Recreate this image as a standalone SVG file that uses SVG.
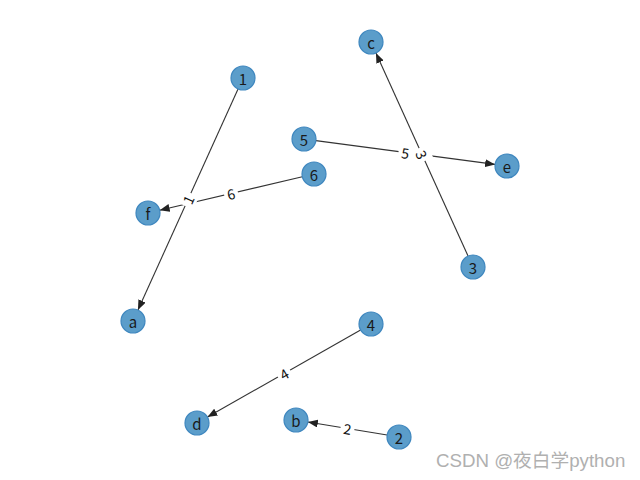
<svg xmlns="http://www.w3.org/2000/svg" width="640" height="480" viewBox="0 0 640 480">
<defs>
<marker id="arr" markerUnits="userSpaceOnUse" markerWidth="11" markerHeight="9" refX="10" refY="4" orient="auto">
<path d="M0,0 L10,4 L0,8 z" fill="#222"/>
</marker>
<style>
.e{stroke:#333;stroke-width:1.1;fill:none;marker-end:url(#arr)}
.n circle{fill:#5b9dca;stroke:#3f87bf;stroke-width:1.2}
.n text{font-family:"Noto Sans CJK SC","DejaVu Sans",sans-serif;font-size:15px;fill:#1a1a1a;text-anchor:middle;dominant-baseline:central}
.lb rect{fill:#fff}
.lb text{font-family:"Noto Sans CJK SC","DejaVu Sans",sans-serif;font-size:14px;fill:#111;text-anchor:middle;dominant-baseline:central}
.wm{font-family:"Liberation Sans","Noto Sans CJK SC",sans-serif;font-size:18.7px;fill:#b0b0b0}
</style>
</defs>
<rect width="640" height="480" fill="#fff"/>
<g id="edges">
<line class="e" x1="238.05" y1="88.93" x2="137.95" y2="310.07"/>
<line class="e" x1="302.32" y1="176.74" x2="159.68" y2="210.26"/>
<line class="e" x1="315.9" y1="140.58" x2="495.11" y2="164.42"/>
<line class="e" x1="468.05" y1="256.07" x2="375.95" y2="52.93"/>
<line class="e" x1="360.57" y1="329.93" x2="207.43" y2="417.07"/>
<line class="e" x1="387.16" y1="435.05" x2="307.84" y2="421.95"/>
</g>
<g id="edge-labels" class="lb">
<g transform="translate(188,199.5) rotate(-65.6)"><rect x="-7" y="-9" width="14" height="18"/><text>1</text></g>
<g transform="translate(231,193.5) rotate(-13.2)"><rect x="-7" y="-9" width="14" height="18"/><text>6</text></g>
<g transform="translate(405.5,152.5) rotate(7.6)"><rect x="-7" y="-9" width="14" height="18"/><text>5</text></g>
<g transform="translate(422,154.5) rotate(65.6)"><rect x="-7" y="-9" width="14" height="18"/><text>3</text></g>
<g transform="translate(284,373.5) rotate(-29.6)"><rect x="-7" y="-9" width="14" height="18"/><text>4</text></g>
<g transform="translate(347.5,428.5) rotate(9.4)"><rect x="-7" y="-9" width="14" height="18"/><text>2</text></g>
</g>
<g id="n1" class="n"><circle cx="243" cy="78" r="12"/><text x="243" y="78">1</text></g>
<g id="nc" class="n"><circle cx="371" cy="42" r="12"/><text x="371" y="42">c</text></g>
<g id="n5" class="n"><circle cx="304" cy="139" r="12"/><text x="304" y="139">5</text></g>
<g id="n6" class="n"><circle cx="314" cy="174" r="12"/><text x="314" y="174">6</text></g>
<g id="ne" class="n"><circle cx="507" cy="166" r="12"/><text x="507" y="166">e</text></g>
<g id="nf" class="n"><circle cx="148" cy="213" r="12"/><text x="148" y="213">f</text></g>
<g id="n3" class="n"><circle cx="473" cy="267" r="12"/><text x="473" y="267">3</text></g>
<g id="na" class="n"><circle cx="133" cy="321" r="12"/><text x="133" y="321">a</text></g>
<g id="n4" class="n"><circle cx="371" cy="324" r="12"/><text x="371" y="324">4</text></g>
<g id="nd" class="n"><circle cx="197" cy="423" r="12"/><text x="197" y="423">d</text></g>
<g id="nb" class="n"><circle cx="296" cy="420" r="12"/><text x="296" y="420">b</text></g>
<g id="n2" class="n"><circle cx="399" cy="437" r="12"/><text x="399" y="437">2</text></g>
<text class="wm" x="436" y="467">CSDN @夜白学python</text>
</svg>
